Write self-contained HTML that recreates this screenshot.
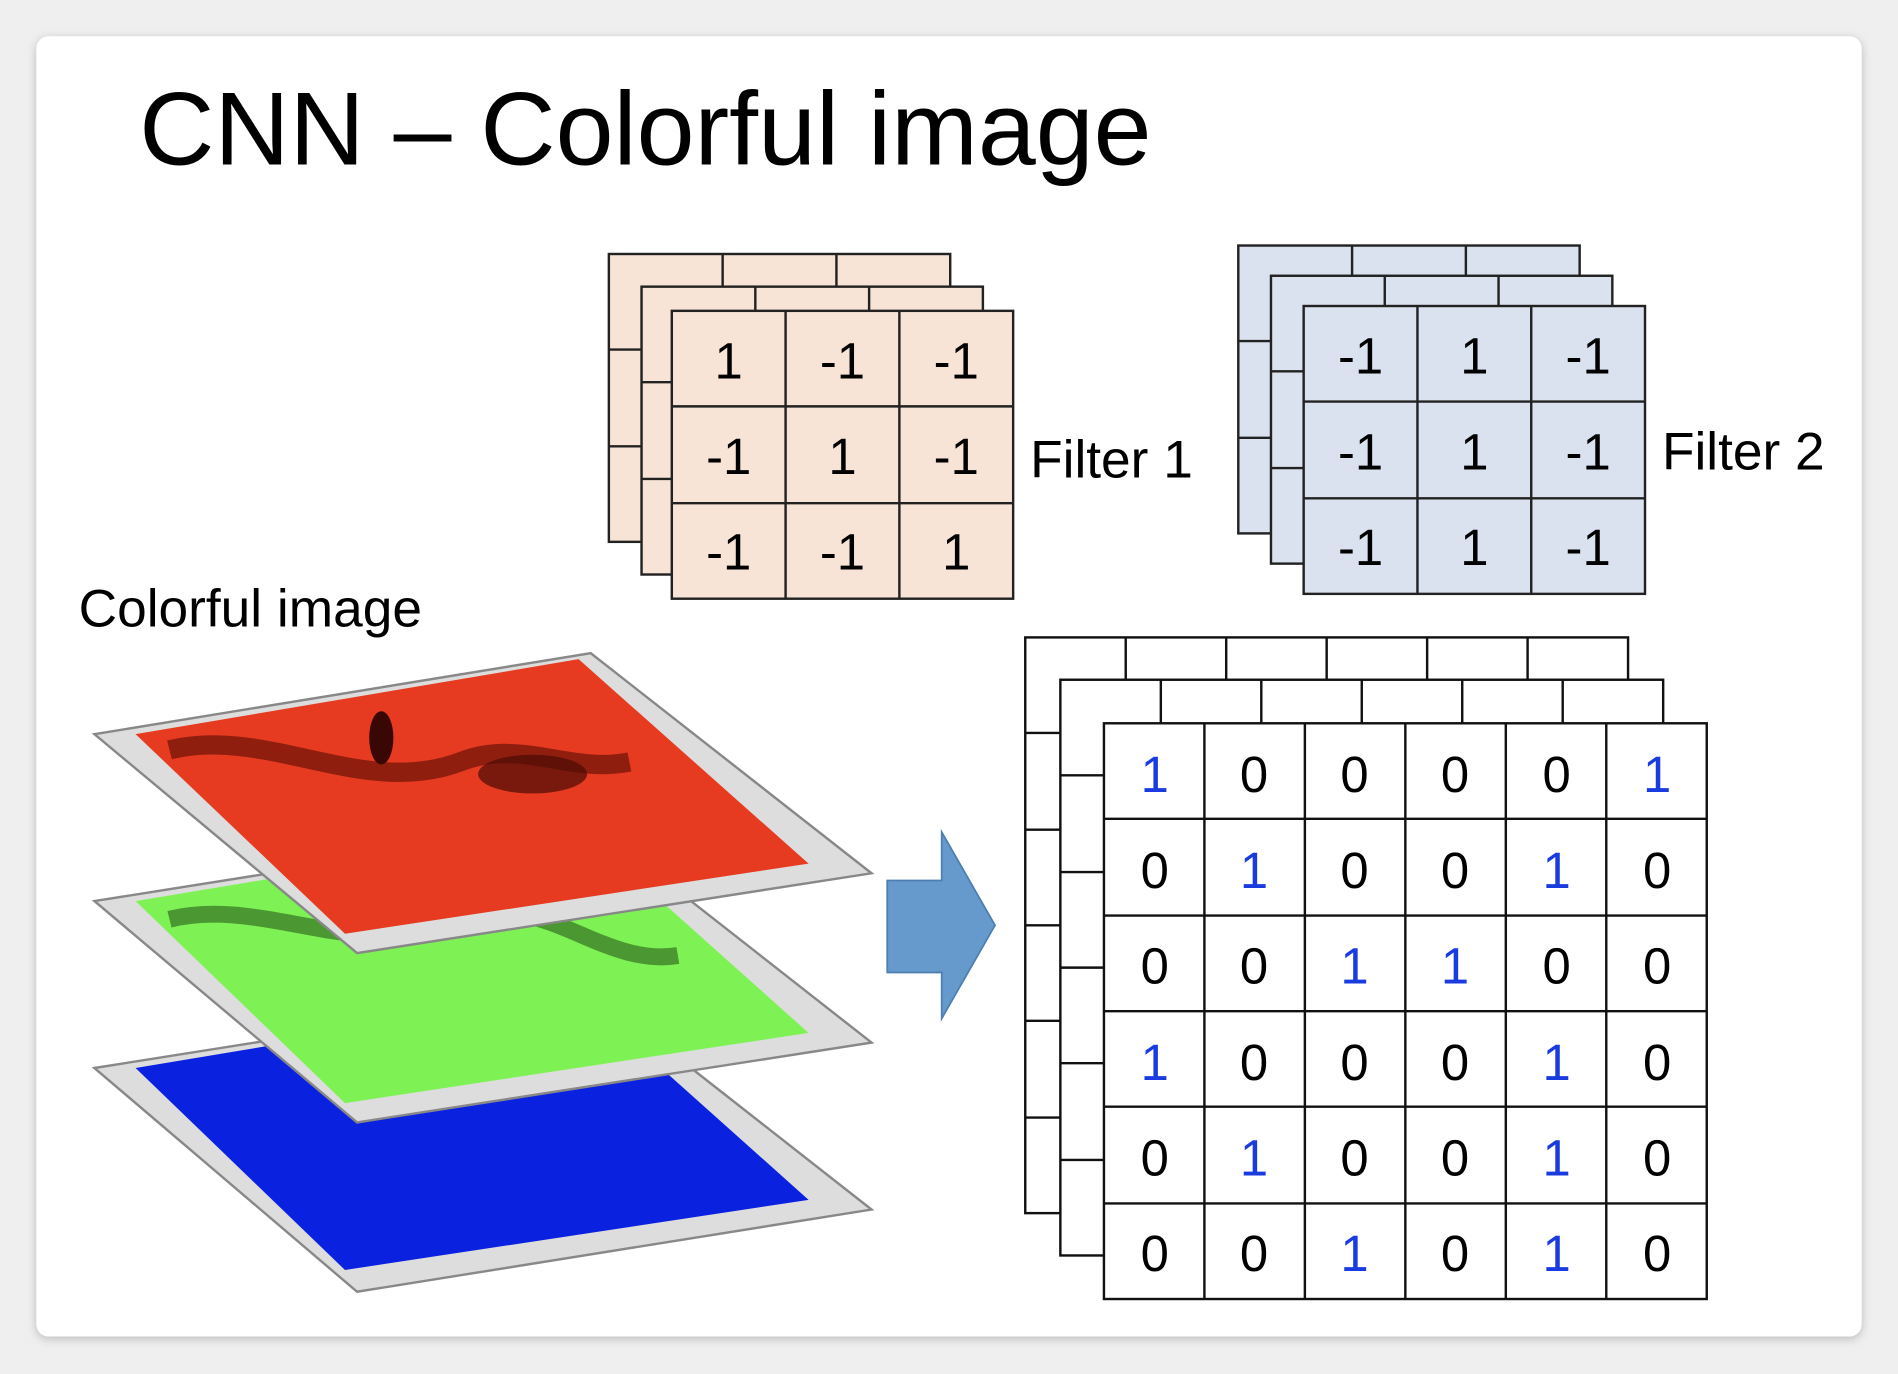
<!DOCTYPE html>
<html><head><meta charset="utf-8"><style>
html,body{margin:0;padding:0;background:#efefef;width:1898px;height:1374px;overflow:hidden}
svg{display:block}
text{font-family:"Liberation Sans",sans-serif}
</style></head><body>
<svg width="1898" height="1374" viewBox="0 0 1568 1136" preserveAspectRatio="none" xmlns="http://www.w3.org/2000/svg">
<defs><filter id="sh" x="-5%" y="-5%" width="110%" height="110%"><feGaussianBlur stdDeviation="4"/></filter></defs>
<rect x="0" y="0" width="1568" height="1136" fill="#efefef"/>
<rect x="30" y="32" width="1508" height="1075" rx="10" fill="#bbb" filter="url(#sh)"/>
<rect x="30" y="30" width="1508" height="1075" rx="10" fill="#fff"/>
<text x="115" y="136" font-size="86">CNN – Colorful image</text>

<g stroke="#222" stroke-width="2" fill="#f8e4d6">
<rect x="503" y="210" width="282" height="238"/>
<path d="M597 210V448M691 210V448M503 289H785M503 369H785" fill="none"/>
<rect x="530" y="237" width="282" height="238"/>
<path d="M624 237V475M718 237V475M530 316H812M530 396H812" fill="none"/>
<rect x="555" y="257" width="282" height="238"/>
<path d="M649 257V495M743 257V495M555 336H837M555 416H837" fill="none"/>
</g>
<g font-size="42" text-anchor="middle">
<text x="602" y="313">1</text><text x="696" y="313">-1</text><text x="790" y="313">-1</text>
<text x="602" y="392">-1</text><text x="696" y="392">1</text><text x="790" y="392">-1</text>
<text x="602" y="471">-1</text><text x="696" y="471">-1</text><text x="790" y="471">1</text>
</g>
<text x="851" y="395" font-size="44">Filter 1</text>

<g stroke="#222" stroke-width="2" fill="#dbe2ef">
<rect x="1023" y="203" width="282" height="238"/>
<path d="M1117 203V441M1211 203V441M1023 282H1305M1023 362H1305" fill="none"/>
<rect x="1050" y="228" width="282" height="238"/>
<path d="M1144 228V466M1238 228V466M1050 307H1332M1050 387H1332" fill="none"/>
<rect x="1077" y="253" width="282" height="238"/>
<path d="M1171 253V491M1265 253V491M1077 332H1359M1077 412H1359" fill="none"/>
</g>
<g font-size="42" text-anchor="middle">
<text x="1124" y="309">-1</text><text x="1218" y="309">1</text><text x="1312" y="309">-1</text>
<text x="1124" y="388">-1</text><text x="1218" y="388">1</text><text x="1312" y="388">-1</text>
<text x="1124" y="467">-1</text><text x="1218" y="467">1</text><text x="1312" y="467">-1</text>
</g>
<text x="1373" y="388" font-size="44">Filter 2</text>

<text x="65" y="518" font-size="44">Colorful image</text>

<!-- blue layer -->
<polygon points="78,883 488,818 720,1000 295,1068" fill="#ddd" stroke="#888" stroke-width="2"/>
<polygon points="112,883 478,822 668,992 285,1050" fill="#0a22e0"/>
<!-- green layer -->
<polygon points="78,745 488,680 720,862 295,928" fill="#ddd" stroke="#888" stroke-width="2"/>
<polygon points="112,745 478,684 668,854 285,912" fill="#7ef255"/>
<path d="M140 760 C220 740 300 800 400 760 C450 740 500 800 560 790" stroke="#2a5a1a" stroke-width="14" fill="none" opacity="0.6"/>
<!-- red layer -->
<polygon points="78,607 488,540 720,722 295,788" fill="#ddd" stroke="#888" stroke-width="2"/>
<polygon points="112,607 478,545 668,714 285,772" fill="#e63b20"/>
<path d="M140 620 C220 600 300 660 380 630 C430 610 470 640 520 630" stroke="#6a1208" stroke-width="16" fill="none" opacity="0.7"/>
<ellipse cx="440" cy="640" rx="45" ry="16" fill="#4a0a04" opacity="0.7"/>
<ellipse cx="315" cy="610" rx="10" ry="22" fill="#3a0804"/>

<!-- arrow -->
<polygon points="733,728 778,728 778,688 822,765 778,842 778,804 733,804" fill="#6699cc" stroke="#4f7fb0" stroke-width="1.5"/>

<!-- feature maps -->
<g stroke="#111" stroke-width="2" fill="#fff">
<rect x="847" y="527" width="498" height="476"/>
<path d="M930 527V1003M1013 527V1003M1096 527V1003M1179 527V1003M1262 527V1003M847 606H1345M847 686H1345M847 765H1345M847 844H1345M847 924H1345" fill="none"/>
<rect x="876" y="562" width="498" height="476"/>
<path d="M959 562V1038M1042 562V1038M1125 562V1038M1208 562V1038M1291 562V1038M876 641H1374M876 721H1374M876 800H1374M876 879H1374M876 959H1374" fill="none"/>
<rect x="912" y="598" width="498" height="476"/>
<path d="M995 598V1074M1078 598V1074M1161 598V1074M1244 598V1074M1327 598V1074M912 677H1410M912 757H1410M912 836H1410M912 915H1410M912 995H1410" fill="none"/>
</g>
<g font-size="42" text-anchor="middle">
<g transform="translate(0,655)">
<text x="954" fill="#1a3be0">1</text><text x="1036">0</text><text x="1119">0</text><text x="1202">0</text><text x="1286">0</text><text x="1369" fill="#1a3be0">1</text></g>
<g transform="translate(0,734)">
<text x="954">0</text><text x="1036" fill="#1a3be0">1</text><text x="1119">0</text><text x="1202">0</text><text x="1286" fill="#1a3be0">1</text><text x="1369">0</text></g>
<g transform="translate(0,813)">
<text x="954">0</text><text x="1036">0</text><text x="1119" fill="#1a3be0">1</text><text x="1202" fill="#1a3be0">1</text><text x="1286">0</text><text x="1369">0</text></g>
<g transform="translate(0,893)">
<text x="954" fill="#1a3be0">1</text><text x="1036">0</text><text x="1119">0</text><text x="1202">0</text><text x="1286" fill="#1a3be0">1</text><text x="1369">0</text></g>
<g transform="translate(0,972)">
<text x="954">0</text><text x="1036" fill="#1a3be0">1</text><text x="1119">0</text><text x="1202">0</text><text x="1286" fill="#1a3be0">1</text><text x="1369">0</text></g>
<g transform="translate(0,1051)">
<text x="954">0</text><text x="1036">0</text><text x="1119" fill="#1a3be0">1</text><text x="1202">0</text><text x="1286" fill="#1a3be0">1</text><text x="1369">0</text></g>
</g>
</svg>
</body></html>
